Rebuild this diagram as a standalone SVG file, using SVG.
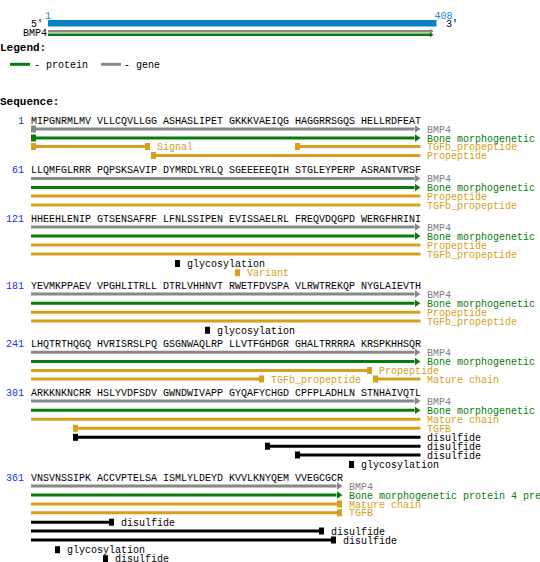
<svg xmlns="http://www.w3.org/2000/svg" width="540" height="562" viewBox="0 0 540 562">
<style>
text{font-family:"Liberation Mono","DejaVu Sans Mono",monospace;font-size:10px;white-space:pre}
.b{font-weight:bold;font-size:11px;fill:#000}
.num{fill:#2030f0;text-anchor:end}
.top{fill:#1a86cc}
.k{fill:#000}
.tg{fill:#808080}
.tn{fill:#0a7a0a}
.to{fill:#d4a017}
.lg,.ln,.lo,.lk{stroke-width:3;fill:none}
.lg{stroke:#888}
.ln{stroke:#0a7a0a}
.lo{stroke:#d6a01c}
.lk{stroke:#000}
.sg{fill:#888}.sn{fill:#0a7a0a}.so{fill:#d6a01c}.sk{fill:#000}
</style>
<defs>
<marker id="ag" markerUnits="userSpaceOnUse" markerWidth="6" markerHeight="8" refX="0" refY="4" orient="auto"><path d="M0,0L6,4L0,8z" fill="#888"/></marker>
<marker id="an" markerUnits="userSpaceOnUse" markerWidth="6" markerHeight="8" refX="0" refY="4" orient="auto"><path d="M0,0L6,4L0,8z" fill="#0a7a0a"/></marker>
<marker id="sag" markerUnits="userSpaceOnUse" markerWidth="4" markerHeight="5" refX="0" refY="2.5" orient="auto"><path d="M0,0L3.5,2.5L0,5z" fill="#888"/></marker>
<marker id="san" markerUnits="userSpaceOnUse" markerWidth="4" markerHeight="5" refX="0" refY="2.5" orient="auto"><path d="M0,0L3.5,2.5L0,5z" fill="#0a7a0a"/></marker>
</defs>

<g id="overview">
<text class="top" x="45" y="18.5">1</text>
<text class="top" x="434.5" y="18.5">408</text>
<rect x="48" y="20" width="388.5" height="6.5" fill="#0a82c8"/>
<text class="k" x="31" y="27">5'</text>
<text class="k" x="446" y="27">3'</text>
<text class="k" x="47" y="36" text-anchor="end">BMP4</text>
<line x1="48" y1="31.2" x2="430" y2="31.2" stroke="#888" stroke-width="2.4" marker-end="url(#sag)"/>
<line x1="48" y1="34.8" x2="430" y2="34.8" stroke="#0a7a0a" stroke-width="2.6" marker-end="url(#san)"/>
</g>

<g id="legend">
<text class="b" x="0" y="50.8">Legend:</text>
<line x1="10" y1="64.3" x2="30" y2="64.3" class="ln"/>
<text class="k" x="34" y="67.8">- protein</text>
<line x1="101" y1="64.3" x2="121" y2="64.3" class="lg"/>
<text class="k" x="124" y="67.8">- gene</text>
<text class="b" x="0" y="104.5">Sequence:</text>
</g>

<g id="row1">
<text class="num" x="24" y="123.5">1</text>
<text class="k" x="31" y="123.5">MIPGNRMLMV VLLCQVLLGG ASHASLIPET GKKKVAEIQG HAGGRRSGQS HELLRDFEAT</text>
<g id="r1-bmp4"><line class="lg" x1="31" y1="129" x2="414.5" y2="129" marker-end="url(#ag)"/><rect class="sg" x="31" y="125.5" width="5" height="7"/><text class="tg" x="427" y="132.5">BMP4</text></g>
<g id="r1-protein"><line class="ln" x1="31" y1="138" x2="414.5" y2="138" marker-end="url(#an)"/><rect class="sn" x="31" y="134.5" width="5" height="7"/><text class="tn" x="427" y="141.5">Bone morphogenetic</text></g>
<g id="r1-signal"><line class="lo" x1="31" y1="146.5" x2="150" y2="146.5"/><rect class="so" x="31" y="143" width="5" height="7"/><rect class="so" x="145" y="143" width="5" height="7"/><text class="to" x="157" y="150">Signal</text></g>
<g id="r1-tgfbpro"><line class="lo" x1="295" y1="146.5" x2="420.5" y2="146.5"/><rect class="so" x="295" y="143" width="5" height="7"/><text class="to" x="427" y="150">TGFb_propeptide</text></g>
<g id="r1-propep"><line class="lo" x1="151" y1="155.5" x2="420.5" y2="155.5"/><rect class="so" x="151" y="152" width="5" height="7"/><text class="to" x="427" y="159">Propeptide</text></g>
</g>

<g id="row2">
<text class="num" x="24" y="173">61</text>
<text class="k" x="31" y="173">LLQMFGLRRR PQPSKSAVIP DYMRDLYRLQ SGEEEEEQIH STGLEYPERP ASRANTVRSF</text>
<g id="r2-bmp4"><line class="lg" x1="31" y1="178.5" x2="414.5" y2="178.5" marker-end="url(#ag)"/><text class="tg" x="427" y="182">BMP4</text></g>
<g id="r2-protein"><line class="ln" x1="31" y1="187.5" x2="414.5" y2="187.5" marker-end="url(#an)"/><text class="tn" x="427" y="191">Bone morphogenetic</text></g>
<g id="r2-propep"><line class="lo" x1="31" y1="196" x2="420.5" y2="196"/><text class="to" x="427" y="199.5">Propeptide</text></g>
<g id="r2-tgfbpro"><line class="lo" x1="31" y1="205" x2="420.5" y2="205"/><text class="to" x="427" y="208.5">TGFb_propeptide</text></g>
</g>

<g id="row3">
<text class="num" x="24" y="222">121</text>
<text class="k" x="31" y="222">HHEEHLENIP GTSENSAFRF LFNLSSIPEN EVISSAELRL FREQVDQGPD WERGFHRINI</text>
<g id="r3-bmp4"><line class="lg" x1="31" y1="227" x2="414.5" y2="227" marker-end="url(#ag)"/><text class="tg" x="427" y="230.5">BMP4</text></g>
<g id="r3-protein"><line class="ln" x1="31" y1="236" x2="414.5" y2="236" marker-end="url(#an)"/><text class="tn" x="427" y="239.5">Bone morphogenetic</text></g>
<g id="r3-propep"><line class="lo" x1="31" y1="245" x2="420.5" y2="245"/><text class="to" x="427" y="248.5">Propeptide</text></g>
<g id="r3-tgfbpro"><line class="lo" x1="31" y1="254" x2="420.5" y2="254"/><text class="to" x="427" y="257.5">TGFb_propeptide</text></g>
<g id="r3-glyc"><rect class="sk" x="175" y="260" width="5" height="7"/><text class="k" x="187" y="267">glycosylation</text></g>
<g id="r3-variant"><rect class="so" x="235" y="269.3" width="5" height="7"/><text class="to" x="247" y="276.3">Variant</text></g>
</g>

<g id="row4">
<text class="num" x="24" y="288.5">181</text>
<text class="k" x="31" y="288.5">YEVMKPPAEV VPGHLITRLL DTRLVHHNVT RWETFDVSPA VLRWTREKQP NYGLAIEVTH</text>
<g id="r4-bmp4"><line class="lg" x1="31" y1="294" x2="414.5" y2="294" marker-end="url(#ag)"/><text class="tg" x="427" y="297.5">BMP4</text></g>
<g id="r4-protein"><line class="ln" x1="31" y1="303.3" x2="414.5" y2="303.3" marker-end="url(#an)"/><text class="tn" x="427" y="306.8">Bone morphogenetic</text></g>
<g id="r4-propep"><line class="lo" x1="31" y1="312.3" x2="420.5" y2="312.3"/><text class="to" x="427" y="315.8">Propeptide</text></g>
<g id="r4-tgfbpro"><line class="lo" x1="31" y1="321" x2="420.5" y2="321"/><text class="to" x="427" y="324.5">TGFb_propeptide</text></g>
<g id="r4-glyc"><rect class="sk" x="205" y="326.8" width="5" height="7"/><text class="k" x="217" y="333.8">glycosylation</text></g>
</g>

<g id="row5">
<text class="num" x="24" y="346.8">241</text>
<text class="k" x="31" y="346.8">LHQTRTHQGQ HVRISRSLPQ GSGNWAQLRP LLVTFGHDGR GHALTRRRRA KRSPKHHSQR</text>
<g id="r5-bmp4"><line class="lg" x1="31" y1="352.3" x2="414.5" y2="352.3" marker-end="url(#ag)"/><text class="tg" x="427" y="355.8">BMP4</text></g>
<g id="r5-protein"><line class="ln" x1="31" y1="361.5" x2="414.5" y2="361.5" marker-end="url(#an)"/><text class="tn" x="427" y="365">Bone morphogenetic</text></g>
<g id="r5-propep"><line class="lo" x1="31" y1="370.5" x2="372" y2="370.5"/><rect class="so" x="367" y="367" width="5" height="7"/><text class="to" x="379" y="374">Propeptide</text></g>
<g id="r5-tgfbpro"><line class="lo" x1="31" y1="379" x2="264" y2="379"/><rect class="so" x="259" y="375.5" width="5" height="7"/><text class="to" x="271" y="382.5">TGFb_propeptide</text></g>
<g id="r5-mature"><line class="lo" x1="373" y1="379" x2="420.5" y2="379"/><rect class="so" x="373" y="375.5" width="5" height="7"/><text class="to" x="427" y="382.5">Mature chain</text></g>
</g>

<g id="row6">
<text class="num" x="24" y="395.5">301</text>
<text class="k" x="31" y="395.5">ARKKNKNCRR HSLYVDFSDV GWNDWIVAPP GYQAFYCHGD CPFPLADHLN STNHAIVQTL</text>
<g id="r6-bmp4"><line class="lg" x1="31" y1="401" x2="414.5" y2="401" marker-end="url(#ag)"/><text class="tg" x="427" y="404.5">BMP4</text></g>
<g id="r6-protein"><line class="ln" x1="31" y1="410.3" x2="414.5" y2="410.3" marker-end="url(#an)"/><text class="tn" x="427" y="413.8">Bone morphogenetic</text></g>
<g id="r6-mature"><line class="lo" x1="31" y1="419.3" x2="420.5" y2="419.3"/><text class="to" x="427" y="422.8">Mature chain</text></g>
<g id="r6-tgfb"><line class="lo" x1="73" y1="428.3" x2="420.5" y2="428.3"/><rect class="so" x="73" y="424.8" width="5" height="7"/><text class="to" x="427" y="431.8">TGFB</text></g>
<g id="r6-disulfide1"><line class="lk" x1="73" y1="437.3" x2="420.5" y2="437.3"/><rect class="sk" x="73" y="433.8" width="5" height="7"/><text class="k" x="427" y="440.8">disulfide</text></g>
<g id="r6-disulfide2"><line class="lk" x1="265" y1="446.2" x2="420.5" y2="446.2"/><rect class="sk" x="265" y="442.7" width="5" height="7"/><text class="k" x="427" y="449.7">disulfide</text></g>
<g id="r6-disulfide3"><line class="lk" x1="295" y1="455" x2="420.5" y2="455"/><rect class="sk" x="295" y="451.5" width="5" height="7"/><text class="k" x="427" y="458.5">disulfide</text></g>
<g id="r6-glyc"><rect class="sk" x="349" y="461" width="5" height="7"/><text class="k" x="361" y="468">glycosylation</text></g>
</g>

<g id="row7">
<text class="num" x="24" y="480.5">361</text>
<text class="k" x="31" y="480.5">VNSVNSSIPK ACCVPTELSA ISMLYLDEYD KVVLKNYQEM VVEGCGCR</text>
<g id="r7-bmp4"><line class="lg" x1="31" y1="486" x2="336.5" y2="486" marker-end="url(#ag)"/><text class="tg" x="349" y="489.5">BMP4</text></g>
<g id="r7-protein"><line class="ln" x1="31" y1="495" x2="336.5" y2="495" marker-end="url(#an)"/><text class="tn" x="349" y="498.5">Bone morphogenetic protein 4 pre</text></g>
<g id="r7-mature"><line class="lo" x1="31" y1="504" x2="342" y2="504"/><rect class="so" x="337" y="500.5" width="5" height="7"/><text class="to" x="349" y="507.5">Mature chain</text></g>
<g id="r7-tgfb"><line class="lo" x1="31" y1="512.8" x2="342" y2="512.8"/><rect class="so" x="337" y="509.3" width="5" height="7"/><text class="to" x="349" y="516.3">TGFB</text></g>
<g id="r7-disulfide1"><line class="lk" x1="31" y1="522.2" x2="114" y2="522.2"/><rect class="sk" x="109" y="518.7" width="5" height="7"/><text class="k" x="121" y="525.7">disulfide</text></g>
<g id="r7-disulfide2"><line class="lk" x1="31" y1="531" x2="324" y2="531"/><rect class="sk" x="319" y="527.5" width="5" height="7"/><text class="k" x="331" y="534.5">disulfide</text></g>
<g id="r7-disulfide3"><line class="lk" x1="31" y1="540" x2="336" y2="540"/><rect class="sk" x="331" y="536.5" width="5" height="7"/><text class="k" x="343" y="543.5">disulfide</text></g>
<g id="r7-glyc"><rect class="sk" x="55" y="546.2" width="5" height="7"/><text class="k" x="67" y="553.2">glycosylation</text></g>
<g id="r7-disulfide4"><rect class="sk" x="103" y="555.2" width="5" height="7"/><text class="k" x="115" y="561.5">disulfide</text></g>
</g>
</svg>
